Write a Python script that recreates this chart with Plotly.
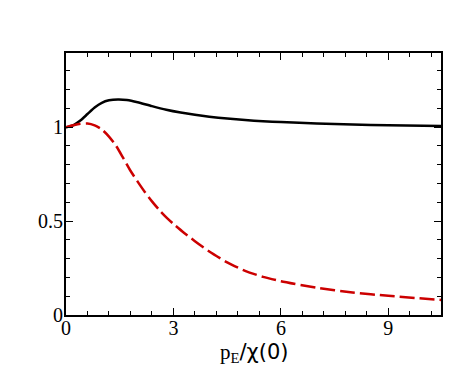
import plotly.graph_objects as go

# Data
x_black = [0, 0.2, 0.4, 0.6, 0.8, 1.0, 1.2, 1.45, 1.7, 2.0, 2.4, 2.8, 3.2, 3.6, 4.0, 4.5, 5.0, 5.5, 6.0, 7.0, 8.0, 9.0, 10.5]
y_black = [1.0, 1.01, 1.035, 1.07, 1.105, 1.13, 1.143, 1.148, 1.145, 1.133, 1.112, 1.093, 1.078, 1.066, 1.056, 1.046, 1.038, 1.032, 1.027, 1.02, 1.014, 1.01, 1.006]

x_red = [0, 0.2, 0.4, 0.6, 0.8, 1.0, 1.2, 1.4, 1.6, 1.8, 2.0, 2.2, 2.4, 2.6, 2.8, 3.0, 3.3, 3.6, 4.0, 4.5, 5.0, 5.5, 6.0, 7.0, 8.0, 9.0, 10.5]
y_red = [1.0, 1.01, 1.018, 1.02, 1.01, 0.988, 0.95, 0.9, 0.835, 0.768, 0.71, 0.655, 0.605, 0.56, 0.52, 0.485, 0.437, 0.393, 0.338, 0.28, 0.235, 0.203, 0.18, 0.145, 0.12, 0.102, 0.08]

x_ticks = [0, 3, 6, 9]
x_ticklabels = ["0", "3", "6", "9"]
y_ticks = [0, 0.5, 1]
y_ticklabels = ["0", "0.5", "1"]
x_title = '<span style="font-family:Liberation Serif">p<sub>E</sub></span>/χ(0)'

fig = go.Figure()
fig.add_trace(go.Scatter(x=x_black, y=y_black, mode="lines", line_shape="spline", line_smoothing=0.6,
                         line=dict(color="black", width=2.5), showlegend=False))
fig.add_trace(go.Scatter(x=x_red, y=y_red, mode="lines", line_shape="spline", line_smoothing=0.6,
                         line=dict(color="#cc0000", width=2.5, dash="15px,5px"), showlegend=False))

serif = "Liberation Serif"
fig.update_layout(
    width=474, height=366,
    margin=dict(l=66, r=33, t=53, b=51, autoexpand=False),
    paper_bgcolor="white", plot_bgcolor="white",
    font=dict(family=serif, size=20, color="black"),
    xaxis=dict(range=[0, 10.47], tickvals=x_ticks, ticktext=x_ticklabels,
               ticks="inside", ticklen=7, tickwidth=1, tickcolor="black",
               showline=True, linecolor="black", linewidth=2, mirror="allticks",
               showgrid=False, zeroline=False, automargin=False,
               tickfont=dict(family=serif, size=20), ticklabelstandoff=-6,
               minor=dict(dtick=0.6, tick0=0, ticks="inside", ticklen=4, tickcolor="black", showgrid=False)),
    yaxis=dict(range=[0, 1.395], tickvals=y_ticks, ticktext=y_ticklabels,
               ticks="inside", ticklen=7, tickwidth=1, tickcolor="black",
               showline=True, linecolor="black", linewidth=2, mirror="allticks",
               showgrid=False, zeroline=False, automargin=False,
               tickfont=dict(family=serif, size=20), ticklabelstandoff=-3,
               minor=dict(dtick=0.1, tick0=0, ticks="inside", ticklen=4, tickcolor="black", showgrid=False)),
    annotations=[dict(text=x_title, xref="paper", yref="paper", x=0.5, y=0,
                      yshift=-23, xanchor="center", yanchor="top", showarrow=False,
                      font=dict(family="DejaVu Sans", size=21, color="black"))],
)

fig.write_html("out.html", config={"displayModeBar": False},
               post_script="document.body.style.margin='0';document.body.style.padding='0';")
